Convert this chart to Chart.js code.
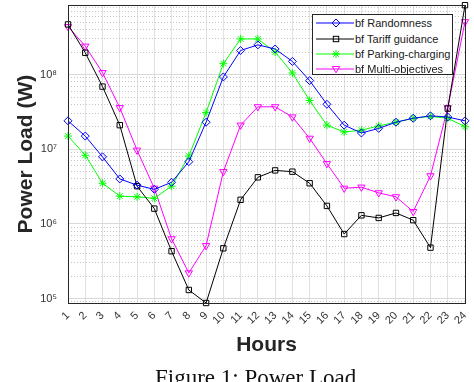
<!DOCTYPE html>
<html>
<head>
<meta charset="utf-8">
<script src="https://cdn.jsdelivr.net/npm/chart.js@4"></script>
<style>
  html, body { margin: 0; padding: 0; background: #fff; }
  #wrap { position: relative; width: 474px; height: 382px; overflow: hidden; }
  #c { position: absolute; left: 0; top: 0; }
  #legend { position: absolute; left: 312px; top: 14px; width: 139px; height: 59px;
            border: 1px solid #262626; background: #fff; font-family: "Liberation Sans", Arial, sans-serif;
            font-size: 11px; color: #1a1a1a; }
  .item { position: absolute; left: 0; height: 14px; width: 139px; }
  .item svg { position: absolute; left: 2px; top: 0; }
  .item span { position: absolute; left: 42px; top: 0px; line-height: 14px; white-space: nowrap; }
  #caption { position: absolute; left: 155px; top: 366px; font-family: "Liberation Serif", "Times New Roman", serif;
             font-size: 23px; line-height: 23px; color: #111; white-space: nowrap; }
</style>
</head>
<body>
<div id="wrap">
  <canvas id="c" width="474" height="382"></canvas>
  <div id="legend"></div>
  <div id="caption">Figure 1: Power Load</div>
</div>
<script>
const hours = ['1','2','3','4','5','6','7','8','9','10','11','12','13','14','15','16','17','18','19','20','21','22','23','24'];

const randomness = [2.4e7, 1.5e7, 7.9e6, 4.0e6, 3.3e6, 2.9e6, 3.6e6, 6.8e6, 2.3e7, 9.3e7, 2.1e8, 2.5e8,
                    2.2e8, 1.5e8, 8.3e7, 4.0e7, 2.1e7, 1.65e7, 1.9e7, 2.3e7, 2.6e7, 2.8e7, 2.7e7, 2.4e7];
const tariff = [4.7e8, 1.96e8, 6.9e7, 2.1e7, 3.2e6, 1.6e6, 4.3e5, 1.3e5, 8.7e4, 4.7e5, 2.1e6, 4.2e6,
                5.2e6, 5.0e6, 3.5e6, 1.74e6, 7.3e5, 1.3e6, 1.2e6, 1.4e6, 1.12e6, 4.8e5, 3.5e7, 8.5e8];
const parking = [1.5e7, 8.3e6, 3.5e6, 2.35e6, 2.3e6, 2.2e6, 3.2e6, 8.1e6, 3.1e7, 1.4e8, 3.0e8, 3.0e8,
                 2.0e8, 1.05e8, 4.5e7, 2.1e7, 1.7e7, 1.8e7, 2.05e7, 2.3e7, 2.6e7, 2.75e7, 2.6e7, 2.0e7];
const multi = [4.4e8, 2.4e8, 1.06e8, 3.6e7, 9.7e6, 3.0e6, 6.3e5, 2.2e5, 5.1e5, 5.0e6, 2.1e7, 3.7e7,
               3.7e7, 2.7e7, 1.4e7, 6.4e6, 3.0e6, 3.1e6, 2.6e6, 2.3e6, 1.46e6, 4.4e6, 3.6e7, 5.1e8];

const seriesNames = ['bf Randomness', 'bf Tariff guidance', 'bf Parking-charging', 'bf Multi-objectives'];
const yDecades = [1e4, 1e5, 1e6, 1e7, 1e8, 1e9];
const yMinorMultipliers = [1, 2, 3, 4, 5, 6, 7, 8, 9];

const allVals = [].concat(randomness, tariff, parking, multi);
const yMin = Math.min(...allVals);
const yMax = Math.max(...allVals);

const sup = {'0':'⁰','1':'¹','2':'²','3':'³','4':'⁴','5':'⁵','6':'⁶','7':'⁷','8':'⁸','9':'⁹','-':'⁻'};
function isDecade(v) { const l = Math.log10(v); return Math.abs(l - Math.round(l)) < 1e-9; }

const styles = [
  {color: '#0000ff', pointStyle: 'rectRot', radius: 4, rotation: 0},
  {color: '#000000', pointStyle: 'rect', radius: 3.8, rotation: 0},
  {color: '#00ff00', pointStyle: 'star', radius: 4, rotation: 0},
  {color: '#ff00ff', pointStyle: 'triangle', radius: 4.2, rotation: 180}
];
const seriesData = [randomness, tariff, parking, multi];

const datasets = seriesData.map((d, i) => ({
  label: seriesNames[i],
  data: d,
  borderColor: styles[i].color,
  backgroundColor: 'rgba(0,0,0,0)',
  pointBackgroundColor: 'rgba(0,0,0,0)',
  pointBorderColor: styles[i].color,
  pointStyle: styles[i].pointStyle,
  pointRadius: styles[i].radius,
  pointRotation: styles[i].rotation,
  pointBorderWidth: 1,
  borderWidth: 1,
  tension: 0,
  clip: false
}));

const framePlugin = {
  id: 'frame',
  afterDraw(chart) {
    const a = chart.chartArea, ctx = chart.ctx;
    ctx.save();
    ctx.strokeStyle = '#262626';
    ctx.lineWidth = 1;
    ctx.strokeRect(Math.round(a.left) + 0.5, Math.round(a.top) + 0.5,
                   Math.round(a.right - a.left), Math.round(a.bottom - a.top));
    ctx.restore();
  }
};

new Chart(document.getElementById('c'), {
  type: 'line',
  data: { labels: hours, datasets },
  plugins: [framePlugin],
  options: {
    responsive: false,
    animation: false,
    layout: { padding: { top: 3, right: 9, left: 0, bottom: 0 } },
    plugins: { legend: { display: false }, tooltip: { enabled: false } },
    scales: {
      x: {
        type: 'category',
        offset: false,
        afterFit(scale) { scale.height = 79; scale.paddingLeft = 0; scale.paddingRight = 0; },
        grid: { color: '#e1e1e1', lineWidth: 1, drawTicks: false },
        border: { display: false },
        ticks: { minRotation: 45, maxRotation: 45, autoSkip: false, padding: 6,
                 color: '#333', font: { family: 'Liberation Sans, Arial, sans-serif', size: 11 } },
        title: { display: true, text: 'Hours', color: '#262626',
                 font: { family: 'Liberation Sans, Arial, sans-serif', size: 21, weight: 'bold' },
                 padding: { top: 0, bottom: 24 } }
      },
      y: {
        type: 'logarithmic',
        min: yMin,
        max: yMax,
        afterFit(scale) { scale.width = 68; scale.paddingTop = 0; scale.paddingBottom = 0; },
        afterBuildTicks(scale) {
          const t = [];
          yDecades.forEach(d => yMinorMultipliers.forEach(m => {
            const v = d * m;
            if (v >= yMin && v <= yMax) t.push({ value: v, major: m === 1 });
          }));
          scale.ticks = t;
        },
        grid: {
          drawTicks: false,
          color: ctx => (ctx.tick && isDecade(ctx.tick.value)) ? '#d9d9d9' : '#c4c4c4',
          lineWidth: 1
        },
        border: {
          display: false,
          dash: ctx => (ctx.tick && !isDecade(ctx.tick.value)) ? [1, 2] : []
        },
        ticks: {
          autoSkip: false,
          padding: 11,
          color: '#333',
          font: { family: 'Liberation Sans, Arial, sans-serif', size: 11 },
          callback: v => isDecade(v) ? '10' + String(Math.round(Math.log10(v))).split('').map(c => sup[c]).join('') : ''
        },
        title: { display: true, text: 'Power Load (W)', color: '#262626',
                 font: { family: 'Liberation Sans, Arial, sans-serif', size: 21, weight: 'bold' },
                 padding: { top: 14, bottom: 0 } }
      }
    }
  }
});

// legend (HTML)
const legend = document.getElementById('legend');
const rowTops = [1, 16.5, 32, 47];
function markerSvg(i) {
  const c = styles[i].color, cx = 21, cy = 7;
  let m = '';
  if (i === 0) m = `<polygon points="${cx},${cy-4} ${cx+4},${cy} ${cx},${cy+4} ${cx-4},${cy}" fill="none" stroke="${c}"/>`;
  if (i === 1) m = `<rect x="${cx-2.7}" y="${cy-2.7}" width="5.4" height="5.4" fill="none" stroke="${c}"/>`;
  if (i === 2) m = `<path d="M${cx-4},${cy}H${cx+4}M${cx},${cy-4}V${cy+4}M${cx-2.8},${cy-2.8}L${cx+2.8},${cy+2.8}M${cx-2.8},${cy+2.8}L${cx+2.8},${cy-2.8}" stroke="${c}"/>`;
  if (i === 3) m = `<polygon points="${cx-3.6},${cy-2.5} ${cx+3.6},${cy-2.5} ${cx},${cy+3.8}" fill="none" stroke="${c}"/>`;
  return `<svg width="40" height="14"><line x1="1" y1="7" x2="39" y2="7" stroke="${c}" stroke-width="1"/>${m}</svg>`;
}
seriesNames.forEach((n, i) => {
  const d = document.createElement('div');
  d.className = 'item';
  d.style.top = rowTops[i] + 'px';
  d.innerHTML = markerSvg(i) + '<span>' + n + '</span>';
  legend.appendChild(d);
});
</script>
</body>
</html>
